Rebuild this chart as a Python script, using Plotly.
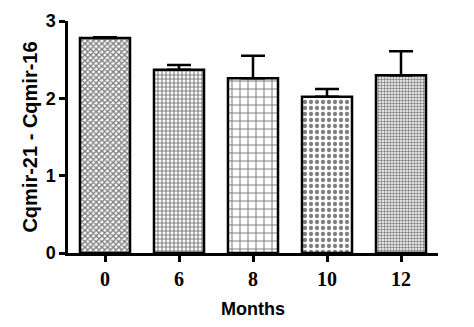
import plotly.graph_objects as go

months = ["0", "6", "8", "10", "12"]
means = [2.78, 2.37, 2.26, 2.02, 2.30]
errors = [0.01, 0.06, 0.29, 0.10, 0.31]
y_ticks = [0, 1, 2, 3]

pattern_shapes = ["x", "+", "+", ".", "."]
pattern_sizes = [4, 4, 8, 6, 3]
pattern_solidity = [0.6, 0.5, 0.25, 0.4, 0.5]

fig = go.Figure()
fig.add_trace(go.Bar(
    x=months,
    y=means,
    width=0.676,
    marker=dict(
        color="white",
        line=dict(color="black", width=2.5),
        pattern=dict(
            shape=pattern_shapes,
            size=pattern_sizes,
            solidity=pattern_solidity,
            fgcolor="black",
            bgcolor="white",
            fillmode="overlay",
        ),
    ),
    error_y=dict(
        type="data",
        array=errors,
        arrayminus=[0] * len(errors),
        symmetric=False,
        color="black",
        thickness=2.5,
        width=12,
    ),
))

fig.update_layout(
    width=474,
    height=327,
    margin=dict(l=68, r=36, t=11, b=71),
    paper_bgcolor="white",
    plot_bgcolor="white",
    showlegend=False,
    xaxis=dict(
        type="category",
        range=[-0.5, 4.5],
        showline=True,
        linecolor="black",
        linewidth=2.5,
        ticks="outside",
        ticklen=6,
        tickwidth=2.5,
        tickcolor="black",
        tickfont=dict(family="Liberation Serif, Times New Roman, serif", size=20, color="black", weight="bold"),
        title=dict(text="<b>Months</b>", font=dict(family="Liberation Sans, Arial, sans-serif", size=18, color="black"), standoff=14),
        showgrid=False,
        zeroline=False,
    ),
    yaxis=dict(
        range=[0, 3],
        tickvals=y_ticks,
        showline=True,
        linecolor="black",
        linewidth=2.5,
        ticks="outside",
        ticklen=6,
        tickwidth=2.5,
        tickcolor="black",
        tickfont=dict(family="Liberation Sans, Arial, sans-serif", size=18, color="black", weight="bold"),
        title=dict(text="<b>Cqmir-21 - Cqmir-16</b>", font=dict(family="Liberation Sans, Arial, sans-serif", size=20, color="black"), standoff=3),
        showgrid=False,
        zeroline=False,
    ),
)

fig.write_html("out.html")
